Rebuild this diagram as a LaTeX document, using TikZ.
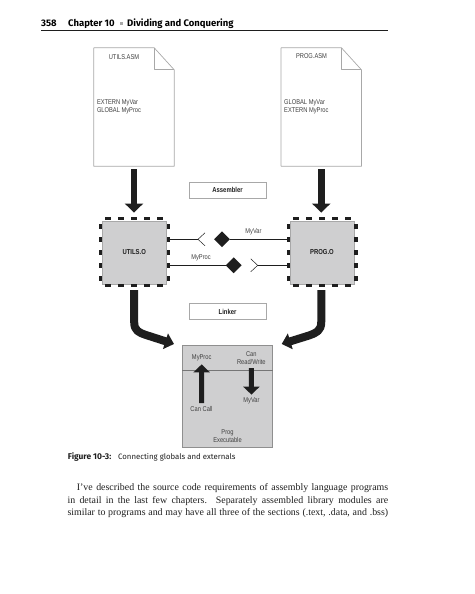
\documentclass[tikz,border=0pt]{standalone}
\usepackage{fontspec}
\setmainfont{Liberation Serif}
\newfontfamily\lblfont[FakeStretch=0.82]{Liberation Sans}
\newfontfamily\headfont{Fira Sans}
\usetikzlibrary{arrows.meta,calc,shapes.geometric}
\definecolor{chipgray}{HTML}{CFCFD0}
\definecolor{edgegray}{HTML}{A8A8A8}
\definecolor{ink}{HTML}{1E1E1E}
\tikzset{
  lbl/.style={font=\lblfont\fontsize{7}{8}\selectfont,text=ink!85,inner sep=0pt,align=center},
  lblb/.style={font=\lblfont\bfseries\fontsize{7.2}{8}\selectfont,text=ink,inner sep=0pt},
  docnode/.style={minimum width=80pt,minimum height=118pt,inner sep=0pt},
  docline/.style={draw=edgegray,line width=0.7pt,line join=round,fill=white},
  toolbox/.style={draw=edgegray,line width=0.8pt,fill=white,minimum width=77pt,minimum height=16pt,inner sep=0pt},
  chipbox/.style={fill=chipgray,draw=edgegray,line width=0.5pt,minimum width=63.5pt,minimum height=63pt,inner sep=0pt},
  toothbox/.style={fill=ink,draw=none},
  wireline/.style={draw=ink,line width=0.7pt},
  barbline/.style={draw=ink,line width=0.5pt},
  diabox/.style={diamond,fill=ink,draw=none,minimum width=16pt,minimum height=16pt,inner sep=0pt},
  blockshort/.style={draw=ink,line width=6.5pt,-{Triangle[length=9pt,width=18pt]}},
  blockcurve/.style={draw=ink,line width=8pt,-{Triangle[length=9pt,width=16pt]}},
  innerarrow/.style={draw=ink,line width=5pt,-{Triangle[length=8pt,width=16pt]}},
  bodytxt/.style={font=\fontsize{9.9}{12}\selectfont,text=ink,inner sep=0pt,anchor=base west},
  headtxt/.style={font=\headfont\bfseries\fontsize{9.5}{11}\selectfont,text=black,inner sep=0pt,anchor=base west},
  captxt/.style={font=\headfont\fontsize{7.8}{9}\selectfont,text=ink,inner sep=0pt,anchor=base west}
}
\newcommand{\chipteeth}[1]{%
  \foreach \d in {-26,-13,0,13,26} {
    \fill[toothbox] ($(#1.north)+(\d-2.8,-3.3)$) rectangle ($(#1.north)+(\d+2.8,-0.4)$);
    \fill[toothbox] ($(#1.south)+(\d-2.8,0.4)$) rectangle ($(#1.south)+(\d+2.8,3.3)$);
    \fill[toothbox] ($(#1.west)+(-3.5,\d-2.8)$) rectangle ($(#1.west)+(-0.4,\d+2.8)$);
    \fill[toothbox] ($(#1.east)+(0.4,\d-2.8)$) rectangle ($(#1.east)+(3.5,\d+2.8)$);
  }}
\newcommand{\docoutline}[1]{%
  \draw[docline] (#1.north west) -- ($(#1.north east)+(-20,0)$) -- ($(#1.north east)+(0,22)$) -- (#1.south east) -- (#1.south west) -- cycle;
  \draw[docline,fill=none] ($(#1.north east)+(-20,0)$) -- ($(#1.north east)+(-20,22)$) -- ($(#1.north east)+(0,22)$);}
\begin{document}
\begin{tikzpicture}[x=1pt,y=-1pt]
\useasboundingbox (0,0) rectangle (474,594);
% page header
\node[headtxt] (pnum) at (41,27) {358};
\node[headtxt] (chap) at (68,27) {Chapter 10};
\fill[edgegray] (119.5,22.5) rectangle (122.5,25.5);
\node[headtxt] (htitle) at (127,27) {Dividing and Conquering};
\coordinate (ruleL) at (41,30);
\coordinate (ruleR) at (388,30);
\draw[ink,line width=0.8pt] (ruleL) -- (ruleR);
% source documents
\node[docnode] (udoc) at (134,107) {};
\node[docnode] (pdoc) at (321.25,107) {};
\docoutline{udoc}
\docoutline{pdoc}
\node[lbl] (utitle) at (124,57) {UTILS.ASM};
\node[lbl] (ptitle) at (311.5,56) {PROG.ASM};
\node[lbl,align=left,anchor=west] (utext) at (96.8,107) {EXTERN MyVar\\GLOBAL MyProc};
\node[lbl,align=left,anchor=west] (ptext) at (284,107) {GLOBAL MyVar\\EXTERN MyProc};
% tools
\node[toolbox,lblb] (asm) at (227.5,190) {Assembler};
\node[toolbox,lblb] (lnk) at (227.5,311.5) {Linker};
% chips
\node[chipbox,lblb] (uchip) at (134.2,252.3) {UTILS.O};
\node[chipbox,lblb] (pchip) at (322,252.3) {PROG.O};
\chipteeth{uchip}
\chipteeth{pchip}
\draw[blockshort,shorten <=3pt,shorten >=8pt] (udoc.south) -- (udoc.south|-uchip.north);
\draw[blockshort,shorten <=3pt,shorten >=8pt] (pdoc.south) -- (pdoc.south|-pchip.north);
% connections
\node[diabox] (d1) at (222,239.3) {};
\node[diabox] (d2) at (233.7,265.3) {};
\coordinate (s1) at (198,239.3);
\coordinate (s2) at (257.7,265.3);
\coordinate (uport1) at ($(uchip.east)+(3.5,-13)$);
\coordinate (uport2) at ($(uchip.east)+(3.5,13)$);
\coordinate (pport1) at ($(pchip.west)+(-3.5,-13)$);
\coordinate (pport2) at ($(pchip.west)+(-3.5,13)$);
\draw[wireline] (uport1) -- (s1);
\draw[wireline] (d1) -- (pport1);
\draw[wireline] (uport2) -- (d2);
\draw[wireline] (s2) -- (pport2);
\draw[barbline] ($(s1)+(7,-6.5)$) -- (s1) -- ($(s1)+(7,6.5)$);
\draw[barbline] ($(s2)+(-7,-6.5)$) -- (s2) -- ($(s2)+(-7,6.5)$);
\node[lbl] (lvar) at (253.5,232) {MyVar};
\node[lbl] (lproc) at (201,258) {MyProc};
% executable
\node[fill=chipgray,draw=edgegray!85!black,line width=0.8pt,minimum width=90.5pt,minimum height=102.5pt,inner sep=0pt] (exec) at (227.5,396.5) {};
\coordinate (divL) at (182.3,370.7);
\coordinate (divR) at (272.7,370.7);
\draw[edgegray!70!black,line width=0.8pt] (divL) -- (divR);
\coordinate (uin) at (174,344);
\coordinate (pin) at (281.7,344);
\draw[blockcurve,shorten <=6pt,line join=round] (uchip.south) -- (134.2,322) .. controls (134.2,331) and (139,332.5) .. (146,335) -- (uin);
\draw[blockcurve,shorten <=6pt,line join=round] (pchip.south-|pdoc.south) -- (321.25,322) .. controls (321.25,331) and (316,333) .. (309,335.5) -- (pin);
\node[lbl] (tproc) at (201.7,358) {MyProc};
\node[lbl] (tcan) at (251.3,358.5) {Can\\Read/Write};
\node[lbl] (tvar) at (251.5,401) {MyVar};
\node[lbl] (tcall) at (201.5,409) {Can Call};
\node[lbl] (tprog) at (227.5,436.5) {Prog\\Executable};
\draw[innerarrow] ([yshift=3pt]tcall.north) -- ([yshift=-3pt]tproc.south) ;
\draw[innerarrow] ([yshift=-3pt]tcan.south) -- ([yshift=3pt]tvar.north);
% caption
\node[captxt,font=\headfont\bfseries\fontsize{8.4}{9}\selectfont] (capa) at (67.7,459.3) {Figure 10-3:};
\node[captxt] (capb) at (118,459.3) {Connecting globals and externals};
% body
\node[bodytxt] (l1) at (76.7,490.5) {\makebox[311.3pt][s]{I’ve described the source code requirements of assembly language programs}};
\node[bodytxt] (l2) at (67.3,503) {\makebox[320.7pt][s]{in detail in the last few chapters. Separately assembled library modules are}};
\node[bodytxt] (l3) at (67.3,515.7) {\makebox[320.7pt][s]{similar to programs and may have all three of the sections (.text, .data, and .bss)}};
\end{tikzpicture}
\end{document}
